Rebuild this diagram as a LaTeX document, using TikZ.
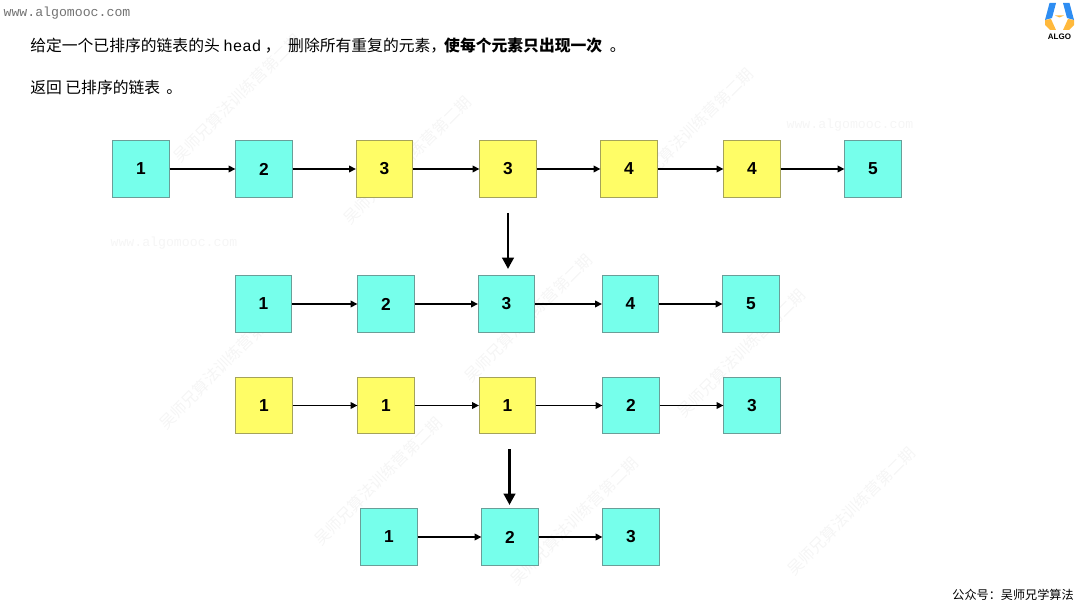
\documentclass[tikz,border=0pt]{standalone}
\usepackage{fontspec}
\setmainfont{Liberation Sans}
\setmonofont{Liberation Mono}
\newfontfamily\cjk{Noto Sans CJK SC}
\usetikzlibrary{arrows.meta}
\definecolor{cellcyan}{HTML}{76FFEB}
\definecolor{edgecyan}{HTML}{6A9E98}
\definecolor{cellyellow}{HTML}{FFFD66}
\definecolor{edgeyellow}{HTML}{A5A35A}
\definecolor{markgray}{HTML}{F5F5F5}
\definecolor{logoblue}{HTML}{2E8DF2}
\definecolor{logoorange}{HTML}{FFB93C}
\begin{document}
\begin{tikzpicture}
  [x=.75pt,y=-.75pt,
   cell/.style={rectangle,inner sep=0pt,minimum size=42.2pt,line width=.8pt,font=\bfseries\fontsize{13}{15}\selectfont},
   plain/.style={cell,fill=cellcyan,draw=edgecyan},
   dup/.style={cell,fill=cellyellow,draw=edgeyellow},
   link/.style={line width=1pt,-{Triangle[length=5pt,width=5pt]}},
   step down/.style={line width=2.2pt,-{Triangle[length=8.5pt,width=8.5pt]}},
   txt/.style={anchor=west,inner sep=0pt,font=\fontsize{11.85}{14}\selectfont},
   wmark/.style={text=markgray,inner sep=0pt,rotate=45,font=\cjk\fontsize{11.8}{14}\selectfont},
   wurl/.style={text=markgray,inner sep=0pt,font=\ttfamily\fontsize{9.9}{12}\selectfont}]

  \useasboundingbox (0,0) rectangle (1080,609);

  % watermarks first, the boxes sit on top
  \foreach \i/\x/\y in {1/237/98,2/407/160,3/689/132,4/223/365,5/528/318,6/741/353,7/378/481,8/574/521,9/851/511}
    \node[wmark] (wm\i) at (\x,\y) {吴师兄算法训练营第二期};
  \node[wurl] (url1) at (174,243) {www.algomooc.com};
  \node[wurl] (url2) at (850,125) {www.algomooc.com};

  \node[wurl,text=black!55] (site) at (67,13) {www.algomooc.com};
  \node[txt] (line1) at (30,45.5) {\cjk 给定一个已排序的链表的头 {\ttfamily head} ，\hspace{3pt} 删除所有重复的元素，\hspace{-1.5pt}{\bfseries 使每个元素只出现一次}\hspace{3pt} 。};
  \node[txt] (line2) at (30,87.5) {\cjk 返回 已排序的链表\hspace{2pt} 。};
  \node[anchor=east,inner sep=0pt,font=\cjk\fontsize{9.1}{11}\selectfont] (sign) at (1074,595) {公众号：吴师兄学算法};

  % logo
  \fill[logoblue] (1049.5,3) -- (1056,3) -- (1052,18) -- (1045,20) -- cycle;
  \fill[logoblue] (1063,3) -- (1069.5,3) -- (1074,20) -- (1067,18) -- cycle;
  \fill[logoorange] (1045,20) -- (1051,19) -- (1056,30) -- (1050,30) -- (1045,25) -- cycle;
  \fill[logoorange] (1074,20) -- (1068,19) -- (1063,30) -- (1069,30) -- (1074,25) -- cycle;
  \fill[logoorange] (1055,15.5) -- (1064,15.5) -- (1059.5,17.5) -- cycle;
  \node[inner sep=0pt,font=\bfseries\fontsize{6}{7}\selectfont] (logo) at (1059.5,37) {ALGO};

  \node[plain] (a1) at (141,169) {1};
  \node[plain] (a2) at (264,169) {2};
  \node[dup]   (a3) at (384.5,169) {3};
  \node[dup]   (a4) at (508,169) {3};
  \node[dup]   (a5) at (629,169) {4};
  \node[dup]   (a6) at (752,169) {4};
  \node[plain] (a7) at (873,169) {5};

  \node[plain] (b1) at (263.5,304) {1};
  \node[plain] (b2) at (386,304) {2};
  \node[plain] (b3) at (506.5,304) {3};
  \node[plain] (b4) at (630.5,304) {4};
  \node[plain] (b5) at (751,304) {5};

  \node[dup]   (c1) at (264,405.5) {1};
  \node[dup]   (c2) at (386,405.5) {1};
  \node[dup]   (c3) at (507.5,405.5) {1};
  \node[plain] (c4) at (631,405.5) {2};
  \node[plain] (c5) at (752,405.5) {3};

  \node[plain] (d1) at (389,537) {1};
  \node[plain] (d2) at (510,537) {2};
  \node[plain] (d3) at (631,537) {3};

  \foreach \from/\to in {a1/a2,a2/a3,a3/a4,a4/a5,a5/a6,a6/a7,b1/b2,b2/b3,b3/b4,b4/b5,c1/c2,c2/c3,c3/c4,c4/c5,d1/d2,d2/d3}
    \draw[link] (\from) -- (\to);

  \coordinate (s1) at (508,213);
  \coordinate (e1) at (508,269);
  \coordinate (s2) at (509.5,449);
  \coordinate (e2) at (509.5,505);
  \draw[step down] (s1) -- (e1);
  \draw[step down] (s2) -- (e2);

\end{tikzpicture}
\end{document}
